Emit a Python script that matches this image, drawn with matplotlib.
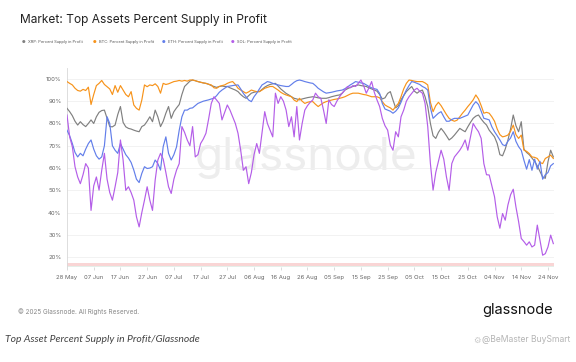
import matplotlib
matplotlib.use("Agg")
import matplotlib.pyplot as plt
import pandas as pd

start_date = "2025-05-28"

btc = [98.8, 98.0, 97.3, 95.8, 94.8, 94.5, 95.3, 94.8, 96.3, 88.5,
       93.0, 97.0, 98.0, 99.3, 97.5, 96.5, 95.5, 93.0, 97.0, 94.0,
       97.0, 95.0, 93.0, 92.0, 94.3, 88.3, 86.8, 86.0, 90.5, 97.3,
       96.5, 97.3, 97.0, 97.8, 96.6, 93.6, 98.0, 97.5, 97.8, 98.3,
       98.8, 99.0, 99.3, 99.0, 99.3, 99.0, 99.5, 99.5, 99.2, 98.8,
       98.5, 98.2, 98.0, 97.6, 97.3, 96.0, 95.8, 96.6, 97.0, 97.3,
       98.0, 98.5, 98.8, 97.5, 95.8, 95.0, 94.3, 93.6, 94.2, 95.0,
       94.6, 94.3, 94.3, 95.0, 95.8, 96.2, 96.6, 96.6, 95.8, 95.0,
       94.0, 93.3, 92.8, 92.4, 92.0, 90.5, 89.8, 91.3, 90.0, 89.0,
       89.5, 89.8, 89.8, 88.6, 87.6, 88.5, 89.3, 89.8, 90.2, 90.5,
       90.8, 91.0, 91.3, 91.6, 92.0, 92.6, 93.2, 93.6, 93.6, 93.6,
       93.3, 93.0, 92.8, 92.4, 92.0, 92.0, 92.0, 91.5, 89.8, 88.3,
       87.6, 87.0, 86.0, 87.6, 89.0, 92.0, 95.5, 98.0, 99.5, 99.3,
       99.0, 98.8, 98.8, 98.8, 98.2, 97.3, 89.5, 85.3, 88.0, 89.5,
       88.0, 86.0, 84.0, 82.3, 81.5, 81.0, 81.5, 83.0, 84.6, 86.0,
       87.6, 89.0, 90.6, 92.8, 91.0, 88.0, 84.6, 85.0, 84.6, 83.0,
       81.0, 77.5, 75.0, 74.0, 74.3, 74.8, 76.5, 79.3, 75.0, 73.3,
       74.8, 68.0, 67.5, 66.5, 65.0, 64.8, 64.3, 62.5, 62.0, 64.3,
       65.0, 65.8, 64.3]

xrp = [86.8, 85.3, 83.5, 81.0, 79.3, 80.8, 79.5, 78.6, 80.0, 81.6,
       80.0, 83.0, 85.0, 85.8, 86.0, 82.3, 78.6, 78.5, 79.3, 84.0,
       87.6, 80.5, 78.5, 77.8, 77.5, 77.0, 76.6, 76.3, 78.6, 79.3,
       81.0, 83.0, 80.8, 86.0, 83.0, 78.6, 81.0, 84.6, 87.6, 82.3,
       85.3, 87.0, 88.5, 93.0, 96.6, 97.8, 99.0, 99.5, 99.2, 98.8,
       98.5, 98.2, 98.0, 97.6, 97.0, 96.6, 96.2, 96.6, 96.8, 96.6,
       96.6, 96.0, 95.5, 95.0, 94.3, 93.0, 92.0, 91.3, 92.5, 93.6,
       94.0, 94.3, 94.3, 95.3, 96.3, 97.0, 97.5, 97.8, 98.0, 96.8,
       95.5, 94.5, 93.5, 92.8, 92.0, 91.3, 91.0, 90.6, 91.0, 91.3,
       91.6, 91.8, 92.0, 91.8, 91.5, 91.3, 91.3, 91.3, 91.6, 92.0,
       92.3, 92.6, 92.8, 93.6, 95.0, 95.6, 96.2, 96.6, 97.0, 97.3,
       97.0, 96.8, 96.6, 96.0, 95.5, 95.0, 94.5, 93.0, 91.0, 91.5,
       93.5, 94.3, 90.5, 87.0, 88.0, 90.6, 92.5, 94.3, 95.5, 96.6,
       94.5, 93.6, 94.5, 95.0, 92.0, 87.6, 80.0, 74.5, 73.3, 76.0,
       77.8, 76.3, 74.5, 72.6, 73.5, 74.8, 76.3, 77.8, 77.0, 76.3,
       78.5, 80.5, 82.3, 83.3, 83.8, 82.0, 80.5, 79.3, 77.0, 75.5,
       74.0, 71.0, 66.0, 65.5, 68.5, 72.5, 77.5, 83.8, 79.0, 76.3,
       80.8, 68.5, 67.0, 66.0, 64.5, 63.0, 61.0, 58.5, 56.0, 55.4,
       62.8, 68.0, 65.0]

eth = [77.0, 74.5, 71.0, 67.0, 65.0, 66.6, 65.5, 68.5, 71.0, 72.6,
       68.5, 65.5, 64.0, 65.0, 70.0, 83.0, 80.0, 70.0, 68.0, 66.6,
       71.0, 68.5, 66.0, 64.5, 62.5, 59.1, 55.0, 53.5, 57.6, 60.6,
       59.8, 60.0, 60.6, 63.6, 62.0, 59.1, 69.6, 74.0, 66.6, 63.6,
       66.0, 69.5, 77.0, 83.0, 86.0, 86.0, 86.8, 87.0, 88.0, 89.0,
       89.5, 90.0, 90.3, 90.6, 91.0, 91.3, 92.5, 94.0, 95.0, 95.8,
       96.6, 96.8, 97.0, 97.2, 97.3, 95.5, 93.5, 92.0, 90.5, 89.8,
       92.0, 93.6, 95.5, 97.3, 98.0, 98.8, 98.5, 98.0, 97.6, 97.3,
       97.0, 96.8, 96.6, 96.6, 97.5, 98.5, 99.2, 99.5, 99.2, 98.8,
       98.5, 98.2, 98.0, 97.0, 95.8, 95.0, 94.2, 93.6, 93.8, 94.0,
       94.3, 94.6, 94.8, 95.0, 95.6, 96.4, 97.3, 98.0, 98.8, 98.5,
       98.2, 98.0, 97.3, 96.6, 96.0, 95.6, 95.3, 93.5, 89.0, 86.5,
       86.0, 85.5, 84.6, 85.5, 87.0, 89.5, 92.5, 95.0, 97.0, 98.8,
       98.5, 98.0, 97.5, 96.6, 96.0, 95.0, 87.0, 82.3, 83.5, 84.6,
       85.3, 83.0, 81.0, 81.0, 81.8, 82.3, 82.3, 82.3, 82.8, 83.3,
       83.8, 86.0, 88.3, 89.8, 88.5, 85.5, 82.3, 82.0, 81.6, 78.5,
       76.3, 74.5, 72.6, 70.5, 70.0, 72.0, 73.5, 76.3, 72.0, 69.6,
       68.0, 63.5, 59.5, 63.8, 59.0, 64.0, 59.5, 63.0, 55.0, 57.0,
       58.0, 61.0, 62.0]

sol = [83.8, 74.0, 69.6, 60.6, 56.0, 53.0, 57.0, 62.0, 60.0, 41.0,
       52.0, 56.0, 50.1, 59.0, 66.6, 55.0, 49.0, 45.6, 51.6, 58.0,
       72.6, 63.6, 50.0, 51.6, 49.0, 45.6, 38.1, 33.6, 40.0, 45.6,
       51.6, 45.6, 41.0, 54.6, 63.6, 66.6, 64.0, 58.0, 51.6, 48.6,
       55.0, 59.1, 62.0, 78.6, 76.0, 72.6, 70.0, 78.6, 65.0, 66.0,
       71.0, 73.0, 75.6, 82.0, 89.0, 92.0, 90.5, 89.0, 81.6, 85.0,
       88.3, 86.0, 83.0, 80.0, 75.6, 68.0, 59.0, 60.6, 53.0, 58.0,
       66.0, 71.0, 66.6, 76.0, 85.3, 80.0, 77.0, 74.0, 93.6, 89.0,
       92.0, 90.0, 86.0, 78.6, 83.0, 74.0, 87.6, 72.6, 80.0, 86.0,
       88.0, 89.5, 90.6, 93.6, 92.0, 91.3, 86.0, 80.0, 90.6, 88.5,
       87.6, 90.0, 92.0, 93.6, 95.0, 96.6, 96.0, 97.0, 96.6, 98.0,
       99.5, 97.0, 93.6, 96.0, 98.8, 94.0, 90.6, 87.6, 82.3, 79.0,
       77.0, 70.3, 68.0, 76.3, 74.0, 83.0, 86.0, 90.0, 92.0, 93.5,
       95.0, 95.8, 94.5, 93.6, 89.0, 78.6, 62.0, 50.1, 58.0, 63.0,
       68.0, 64.0, 56.0, 50.0, 62.0, 65.0, 66.5, 68.0, 70.0, 72.6,
       68.0, 74.0, 80.0, 78.0, 76.3, 73.3, 62.0, 57.0, 56.9, 52.0,
       47.1, 38.1, 33.0, 39.6, 36.6, 43.4, 48.0, 50.5, 42.6, 36.0,
       28.4, 27.0, 25.4, 26.9, 24.6, 25.4, 34.4, 27.6, 20.9, 21.6,
       24.6, 29.9, 26.1]

series_names = ["XRP: Percent Supply in Profit", "BTC: Percent Supply in Profit",
                "ETH: Percent Supply in Profit", "SOL: Percent Supply in Profit"]
series_values = [xrp, btc, eth, sol]
series_colors = ["#808080", "#f7931a", "#627eea", "#b45ee8"]

y_ticks = [20, 30, 40, 50, 60, 70, 80, 90, 100]
x_tick_labels = ["28 May", "07 Jun", "17 Jun", "27 Jun", "07 Jul", "17 Jul", "27 Jul",
                 "06 Aug", "16 Aug", "26 Aug", "05 Sep", "15 Sep", "25 Sep", "05 Oct",
                 "15 Oct", "25 Oct", "04 Nov", "14 Nov", "24 Nov"]

dates = pd.date_range(start_date, periods=len(btc), freq="D")
tick_dates = [pd.Timestamp(start_date) + pd.Timedelta(days=10 * i) for i in range(len(x_tick_labels))]

plt.rcParams["font.family"] = ["Inter", "DejaVu Sans"]

fig = plt.figure(figsize=(5.76, 3.62), dpi=100)
fig.patch.set_facecolor("white")
ax = fig.add_axes([0.1163, 0.2624, 0.8455, 0.5498])
ax.set_facecolor("white")

# watermark
ax.text(0.49, 0.55, "glassnode", transform=ax.transAxes, ha="center", va="center",
        fontsize=33, color="#ededed", zorder=0, family=["Inter", "DejaVu Sans"])

for name, vals, col in zip(series_names, series_values, series_colors):
    ax.plot(dates, vals, color=col, lw=0.85, zorder=3, label=name)

ax.set_ylim(15.6, 104.9)
ax.set_xlim(pd.Timestamp(start_date), pd.Timestamp("2025-11-26 06:00"))
ax.set_yticks(y_ticks)
ax.set_yticklabels([f"{v}%" for v in y_ticks])
ax.set_xticks(tick_dates)
ax.set_xticklabels(x_tick_labels)
ax.grid(axis="y", color="#f0f0f0", lw=0.6, zorder=1)
ax.axhspan(16.0, 17.3, color="#f9d5d5", zorder=2, lw=0)
ax.axhspan(15.6, 16.0, color="#e4efe9", zorder=2, lw=0)

for s in ["top", "right", "bottom"]:
    ax.spines[s].set_visible(False)
ax.spines["left"].set_color("#d8d8d8")
ax.spines["left"].set_linewidth(0.6)
ax.tick_params(axis="y", length=0, labelsize=4.3, labelcolor="#666666", pad=4)
ax.tick_params(axis="x", length=2.5, width=0.5, color="#cccccc", labelsize=4.3,
               labelcolor="#666666", pad=3)

# title
fig.text(20 / 576, 1 - 20 / 362, "Market: Top Assets Percent Supply in Profit",
         fontsize=8.6, color="#222222", ha="left", va="center")

# legend
leg_x = [24, 95, 164, 233]
for x0, name, col in zip(leg_x, series_names, series_colors):
    fig.text(x0 / 576, 1 - 42 / 362, "\u25cf", fontsize=3.0, color=col, ha="center", va="center",
             family=["DejaVu Sans"])
    fig.text((x0 + 4) / 576, 1 - 42 / 362, name, fontsize=2.9, color="#555555",
             ha="left", va="center")

# footer
fig.text(18 / 576, 1 - 312 / 362, "\u00a9 2025 Glassnode. All Rights Reserved.",
         fontsize=4.6, color="#888888", ha="left", va="center")
fig.text(553 / 576, 1 - 310 / 362, "glassnode", fontsize=10.5, color="#111111",
         ha="right", va="center")
fig.text(5 / 576, 1 - 340 / 362, "Top Asset Percent Supply in Profit/Glassnode",
         fontsize=7.5, color="#444444", ha="left", va="center", style="italic",
         family=["Lato", "DejaVu Sans"])
fig.text(570 / 576, 1 - 340 / 362, "@BeMaster BuySmart", fontsize=6.2, color="#b5b5b5",
         ha="right", va="center")
fig.text(477 / 576, 1 - 340 / 362, "\u2699", fontsize=6.0, color="#c8c8c8",
         ha="center", va="center", family=["DejaVu Sans"])

fig.savefig("out.png", dpi=100, facecolor="white")
